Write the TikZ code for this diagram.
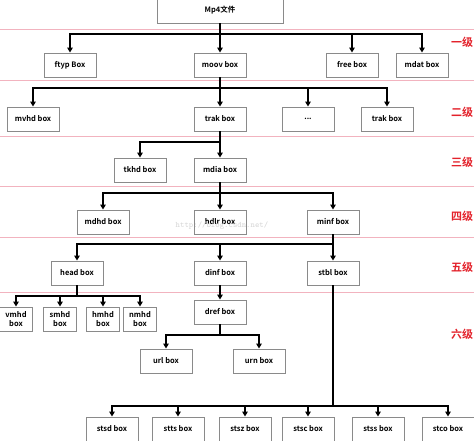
\documentclass[tikz,border=0pt]{standalone}
\usepackage{fontspec}
\newfontfamily\cjk{Noto Sans CJK SC}[BoldFont={Noto Sans CJK SC Bold}]
\usetikzlibrary{arrows.meta}
\definecolor{pinkline}{HTML}{F2B3BF}
\definecolor{lvred}{HTML}{E3222B}
\definecolor{boxgray}{HTML}{8A8A8A}
\tikzset{
 bx/.style={draw=boxgray, line width=0.9pt, fill=white, minimum width=52pt, minimum height=24pt, inner sep=0pt, font=\cjk\bfseries\fontsize{7.5}{8.5}\selectfont, align=center},
 sbx/.style={bx, minimum width=33pt},
 conn/.style={line width=1.6pt, -{Triangle[length=5pt,width=5.5pt]}},
 lvl/.style={text=lvred, font=\cjk\bfseries\fontsize{11}{12}\selectfont},
 sep/.style={draw=pinkline, line width=0.9pt},
 wm/.style={text=black!16, font=\ttfamily\fontsize{8.3}{9}\selectfont}
}
\begin{document}
\begin{tikzpicture}[x=1pt,y=-1pt]
\useasboundingbox (0,0) rectangle (474,441);
% separators
\foreach \yy in {29,80,136,186,237,292} \draw[sep] (0,\yy) -- (474,\yy);
% level labels
\node[lvl] (l1) at (462,42) {一级};
\node[lvl] (l2) at (462,112) {二级};
\node[lvl] (l3) at (462,162) {三级};
\node[lvl] (l4) at (462,216) {四级};
\node[lvl] (l5) at (462,267) {五级};
\node[lvl] (l6) at (462,334) {六级};
% nodes
\node[bx, minimum width=126pt, minimum height=26pt] (mp4) at (220,10) {Mp4文件};
\node[bx] (ftyp) at (70,65) {ftyp Box};
\node[bx] (moov) at (220,65) {moov box};
\node[bx] (free) at (352,65) {free box};
\node[bx] (mdat) at (422,65) {mdat box};
\node[bx] (mvhd) at (33,119) {mvhd box};
\node[bx] (trak) at (220,119) {trak box};
\node[bx] (dots) at (308,119) {...};
\node[bx] (trakb) at (387,119) {trak box};
\node[bx] (tkhd) at (140,170) {tkhd box};
\node[bx] (mdia) at (220,170) {mdia box};
\node[bx] (mdhd) at (103,222) {mdhd box};
\node[bx] (hdlr) at (220,222) {hdlr box};
\node[bx] (minf) at (333,222) {minf box};
\node[bx] (head) at (77,273) {head box};
\node[bx] (dinf) at (220,273) {dinf box};
\node[bx] (stbl) at (333,273) {stbl box};
\node[sbx] (vmhd) at (16,319) {vmhd\\box};
\node[sbx] (smhd) at (60,319) {smhd\\box};
\node[sbx] (hmhd) at (103,319) {hmhd\\box};
\node[sbx] (nmhd) at (140,319) {nmhd\\box};
\node[bx] (dref) at (220,312) {dref box};
\node[bx] (url) at (166,361) {url box};
\node[bx] (urn) at (259,361) {urn box};
\node[bx] (stsd) at (112,429) {stsd box};
\node[bx] (stts) at (178,429) {stts box};
\node[bx] (stsz) at (245,429) {stsz box};
\node[bx] (stsc) at (308,429) {stsc box};
\node[bx] (stss) at (378,429) {stss box};
\node[bx] (stco) at (448,429) {stco box};
% bar coordinates
\coordinate (b1) at (220,34);
\coordinate (b2) at (220,88);
\coordinate (b3) at (220,142);
\coordinate (b4) at (220,193);
\coordinate (b5) at (333,244);
\coordinate (b6) at (77,296);
\coordinate (b7) at (220,335);
\coordinate (b8) at (333,406);
% connectors
\foreach \c in {ftyp,moov,free,mdat} \draw[conn] (mp4.south) |- (b1) -| (\c.north);
\foreach \c in {mvhd,trak,dots,trakb} \draw[conn] (moov.south) |- (b2) -| (\c.north);
\foreach \c in {tkhd,mdia} \draw[conn] (trak.south) |- (b3) -| (\c.north);
\foreach \c in {mdhd,hdlr,minf} \draw[conn] (mdia.south) |- (b4) -| (\c.north);
\foreach \c in {head,dinf,stbl} \draw[conn] (minf.south) |- (b5) -| (\c.north);
\foreach \c in {vmhd,smhd,hmhd,nmhd} \draw[conn] (head.south) |- (b6) -| (\c.north);
\draw[conn] (dinf.south) -- (dref.north);
\foreach \c in {url,urn} \draw[conn] (dref.south) |- (b7) -| (\c.north);
\foreach \c in {stsd,stts,stsz,stsc,stss,stco} \draw[conn] (stbl.south) |- (b8) -| (\c.north);
% watermark
\node[wm] (wmark) at (222,226) {http://blog.csdn.net/};
\end{tikzpicture}
\end{document}
